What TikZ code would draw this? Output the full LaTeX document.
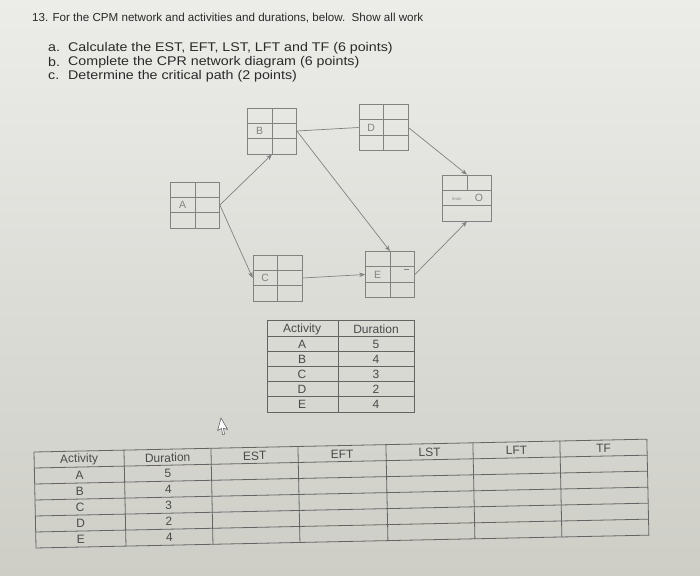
\documentclass[tikz,border=0pt]{standalone}
\usepackage{fontspec}
\setmainfont{Liberation Sans}
\newfontfamily\itemfont{Liberation Sans}[FakeStretch=1.13]
\usetikzlibrary{arrows.meta,calc}
\definecolor{bgtop}{RGB}{236,236,233}
\definecolor{bgbot}{RGB}{206,206,199}
\definecolor{ink}{RGB}{42,42,42}
\definecolor{pencil}{RGB}{130,130,130}
\definecolor{rulec}{RGB}{100,100,100}
\newcommand\cpmbox[2]{%
  \node[cpm] (#1) at (#2) {};
  \draw[pencil,line width=0.7pt] (#1.north) -- (#1.south);
  \draw[pencil,line width=0.7pt] ($(#1.north west)!0.333!(#1.south west)$) -- ($(#1.north east)!0.333!(#1.south east)$);
  \draw[pencil,line width=0.7pt] ($(#1.north west)!0.667!(#1.south west)$) -- ($(#1.north east)!0.667!(#1.south east)$);
}
\tikzset{
  cpm/.style={draw=pencil, line width=0.7pt, inner sep=0pt, minimum width=49pt, minimum height=46pt},
  hand/.style={text=pencil, font=\fontsize{10.5}{11}\selectfont},
  arr/.style={draw=pencil, line width=0.7pt, -{Stealth[length=6pt,width=4.5pt]}},
  link/.style={draw=pencil, line width=0.7pt},
  txt/.style={text=ink, font=\fontsize{11.6}{13}\selectfont, inner sep=0pt},
  item/.style={text=ink, font=\itemfont\fontsize{12.6}{13}\selectfont, inner sep=0pt},
  cell/.style={text=ink!85, font=\fontsize{12}{13}\selectfont, inner sep=0pt},
  grid/.style={draw=rulec, line width=0.8pt}
}
\begin{document}
\begin{tikzpicture}[x=1pt,y=-1pt]
\shade[top color=bgtop,bottom color=bgbot] (0,0) rectangle (700,575);
\useasboundingbox (0,0) rectangle (700,575);

% heading
\node[txt,anchor=west] (title) at (32,18) {13. For the CPM network and activities and durations, below.\ \ Show all work};
\node[item,anchor=west] (la) at (48,48) {a.};
\node[item,anchor=west] (ta) at (68,48) {Calculate the EST, EFT, LST, LFT and TF (6 points)};
\node[item,anchor=west] (lb) at (48,62) {b.};
\node[item,anchor=west] (tb) at (68,62) {Complete the CPR network diagram (6 points)};
\node[item,anchor=west] (lc) at (48,76) {c.};
\node[item,anchor=west] (tc) at (68,76) {Determine the critical path (2 points)};

% network
\cpmbox{A}{195,205}
\cpmbox{B}{272,131}
\cpmbox{D}{383.5,127.5}
\cpmbox{C}{277.5,278}
\cpmbox{E}{390,274.5}
\node[cpm] (F) at (467,198) {};
\draw[pencil,line width=0.7pt] (F.north) -- ($(F.north)!0.333!(F.south)$);
\draw[pencil,line width=0.7pt] ($(F.north west)!0.333!(F.south west)$) -- ($(F.north east)!0.333!(F.south east)$);
\draw[pencil,line width=0.7pt] ($(F.north west)!0.667!(F.south west)$) -- ($(F.north east)!0.667!(F.south east)$);

\node[hand] (lA) at ($(A.west)!0.5!(A.center)$) {A};
\node[hand] (lB) at ($(B.west)!0.5!(B.center)$) {B};
\node[hand] (lD) at ($(D.west)!0.5!(D.center)$) {D};
\node[hand] (lC) at ($(C.west)!0.5!(C.center)$) {C};
\node[hand] (lE) at ($(E.west)!0.5!(E.center)$) {E};
\node[hand,font=\fontsize{4}{5}\selectfont] (lF) at (457,199) {finish};
\node[hand] (lO) at (479,198) {O};
\coordinate (dashA) at (404,269);
\coordinate (dashB) at (409,269);
\draw[pencil,line width=0.7pt] (dashA) -- (dashB);

\draw[arr] (A.east) -- (B.south);
\draw[arr] (A.east) -- (C.west);
\draw[link] (B.east) -- (D.west);
\draw[arr] (B.east) -- (E.north);
\draw[arr] (C.east) -- (E.west);
\draw[arr] (D.east) -- (F.north);
\draw[arr] (E.east) -- (F.south);

% middle table
\draw[grid] (267,320) rectangle (414,412);
\draw[grid] (338,320) -- (338,412);
\foreach \yy in {336,351.2,366.4,381.6,396.8} \draw[grid] (267,\yy) -- (414,\yy);
\node[cell] (mh1) at (302,329) {Activity};
\node[cell] (mh2) at (376,329) {Duration};
\foreach \a/\d [count=\i from 0] in {A/5,B/4,C/3,D/2,E/4} {
  \node[cell] (ma\i) at (302,344+15.2*\i) {\a};
  \node[cell] (md\i) at (376,344+15.2*\i) {\d};
}

% cursor
\draw[fill=white,draw=rulec,line width=0.6pt,rotate around={-15:(221,418)}]
  (221,418) -- (221,431) -- (224.2,428) -- (226.8,433.5) -- (228.6,432.7) -- (226,427.3) -- (230.2,427.3) -- cycle;

% bottom table
\begin{scope}[rotate around={1.2:(34,452)}]
\draw[grid] (34,452) rectangle (647,548);
\foreach \xx in {124,211,298,386,473,560} \draw[grid] (\xx,452) -- (\xx,548);
\foreach \yy in {468,484,500,516,532} \draw[grid] (34,\yy) -- (647,\yy);
\foreach \h/\cx [count=\i] in {Activity/79,Duration/167.5,EST/254.5,EFT/342,LST/429.5,LFT/516.5,TF/603.5}
  \node[cell,rotate=1.2] (bh\i) at (\cx,460.5) {\h};
\foreach \a/\d [count=\i from 0] in {A/5,B/4,C/3,D/2,E/4} {
  \node[cell,rotate=1.2] (ba\i) at (79,476.5+16*\i) {\a};
  \node[cell,rotate=1.2] (bd\i) at (167.5,476.5+16*\i) {\d};
}
\end{scope}
\end{tikzpicture}
\end{document}
